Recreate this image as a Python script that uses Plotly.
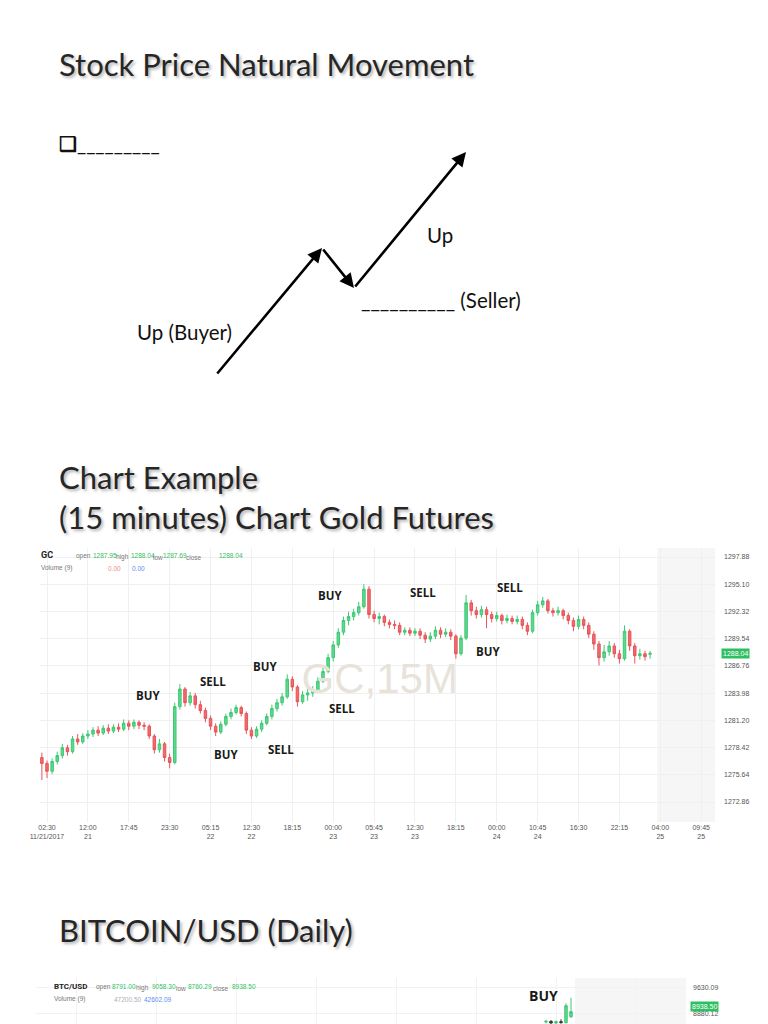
import plotly.graph_objects as go

# ---------------- data ----------------
# top concept diagram (page pixel coordinates of the zig-zag vertices)
diagram_x = [216, 322, 354, 466]
diagram_y = [375, 248, 288, 152]

# Gold futures 15-minute candles
gc_open = [1277.4, 1276.8, 1276.0, 1277.0, 1277.6, 1278.4, 1278.0, 1279.3, 1279.0, 1279.6,
           1279.8, 1280.2, 1279.9, 1280.4, 1280.1, 1280.5, 1280.3, 1280.9, 1280.6, 1281.0,
           1280.7, 1280.6, 1279.6, 1278.2, 1278.8, 1277.4, 1276.9, 1282.6, 1284.4, 1283.0,
           1283.7, 1282.8, 1282.2, 1281.4, 1280.6, 1280.0, 1280.8, 1281.6, 1282.0, 1282.5,
           1281.9, 1280.2, 1279.6, 1280.3, 1280.9, 1281.6, 1282.4, 1283.0, 1283.6, 1285.4,
           1284.6, 1283.1, 1283.8, 1284.0, 1284.3, 1285.2, 1286.2, 1287.6, 1288.9, 1290.2,
           1291.4, 1291.8, 1292.2, 1292.8, 1294.6, 1292.0, 1291.6, 1291.8, 1291.2, 1291.0,
           1290.9, 1290.2, 1290.4, 1290.1, 1290.3, 1289.9, 1289.5, 1289.8, 1290.4, 1290.0,
           1290.2, 1289.8, 1288.0, 1289.6, 1293.2, 1292.4, 1292.0, 1292.5, 1292.0, 1291.6,
           1291.9, 1291.4, 1291.6, 1291.3, 1291.5, 1290.9, 1290.3, 1292.2, 1293.0, 1293.4,
           1292.4, 1292.2, 1292.4, 1291.9, 1291.4, 1290.8, 1291.5, 1290.9, 1290.0, 1289.0,
           1287.6, 1288.2, 1288.8, 1288.0, 1287.5, 1290.3, 1288.8, 1287.8, 1288.0, 1287.95]
gc_close = [1276.8, 1276.0, 1277.0, 1277.6, 1278.4, 1278.0, 1279.3, 1279.0, 1279.6, 1279.8,
            1280.2, 1279.9, 1280.4, 1280.1, 1280.5, 1280.3, 1280.9, 1280.6, 1281.0, 1280.7,
            1280.6, 1279.6, 1278.2, 1278.8, 1277.4, 1276.9, 1282.6, 1284.4, 1283.0, 1283.7,
            1282.8, 1282.2, 1281.4, 1280.6, 1280.0, 1280.8, 1281.6, 1282.0, 1282.5, 1281.9,
            1280.2, 1279.6, 1280.3, 1280.9, 1281.6, 1282.4, 1283.0, 1283.6, 1285.4, 1284.6,
            1283.1, 1283.8, 1284.0, 1284.3, 1285.2, 1286.2, 1287.6, 1288.9, 1290.2, 1291.4,
            1291.8, 1292.2, 1292.8, 1294.6, 1292.0, 1291.6, 1291.8, 1291.2, 1291.0, 1290.9,
            1290.2, 1290.4, 1290.1, 1290.3, 1289.9, 1289.5, 1289.8, 1290.4, 1290.0, 1290.2,
            1289.8, 1288.0, 1289.6, 1293.2, 1292.4, 1292.0, 1292.5, 1292.0, 1291.6, 1291.9,
            1291.4, 1291.6, 1291.3, 1291.5, 1290.9, 1290.3, 1292.2, 1293.0, 1293.4, 1292.4,
            1292.2, 1292.4, 1291.9, 1291.4, 1290.8, 1291.5, 1290.9, 1290.0, 1289.0, 1287.6,
            1288.2, 1288.8, 1288.0, 1287.5, 1290.3, 1288.8, 1287.8, 1288.0, 1287.7, 1288.04]
gc_high = [1277.9, 1277.1, 1277.3, 1278.0, 1278.8, 1278.7, 1279.6, 1279.8, 1279.9, 1280.2,
           1280.5, 1280.6, 1280.7, 1280.8, 1280.8, 1280.9, 1281.3, 1281.2, 1281.3, 1281.2,
           1281.0, 1280.8, 1279.8, 1279.3, 1279.0, 1277.8, 1283.0, 1284.9, 1284.6, 1284.1,
           1284.0, 1283.2, 1282.5, 1281.7, 1280.9, 1281.1, 1281.9, 1282.4, 1282.8, 1282.7,
           1282.1, 1280.5, 1280.6, 1281.2, 1281.9, 1282.8, 1283.4, 1284.0, 1285.9, 1285.7,
           1284.8, 1284.2, 1284.5, 1284.7, 1285.6, 1286.6, 1288.0, 1289.3, 1290.6, 1291.8,
           1292.3, 1292.6, 1293.3, 1295.1, 1294.9, 1292.4, 1292.2, 1292.0, 1291.5, 1291.4,
           1291.2, 1290.7, 1290.7, 1290.6, 1290.6, 1290.2, 1290.2, 1290.8, 1290.7, 1290.6,
           1290.5, 1290.0, 1289.9, 1294.0, 1293.5, 1292.8, 1292.9, 1292.8, 1292.3, 1292.3,
           1292.1, 1292.0, 1291.9, 1291.9, 1291.8, 1291.2, 1292.5, 1293.4, 1293.8, 1293.6,
           1292.7, 1292.8, 1292.6, 1292.2, 1291.7, 1291.9, 1291.8, 1291.2, 1290.3, 1289.3,
           1288.9, 1289.3, 1289.1, 1288.4, 1290.9, 1290.5, 1289.1, 1288.5, 1288.3, 1288.3]
gc_low = [1275.1, 1275.3, 1275.7, 1276.7, 1277.3, 1277.6, 1277.8, 1278.7, 1278.8, 1279.3,
          1279.5, 1279.6, 1279.7, 1279.8, 1279.9, 1280.0, 1280.1, 1280.2, 1280.3, 1280.3,
          1280.2, 1279.3, 1277.8, 1277.9, 1277.0, 1276.3, 1276.7, 1282.3, 1282.6, 1282.7,
          1282.4, 1281.9, 1281.0, 1280.2, 1279.6, 1279.8, 1280.6, 1281.3, 1281.8, 1281.6,
          1279.8, 1279.3, 1279.4, 1280.0, 1280.7, 1281.3, 1282.1, 1282.7, 1283.4, 1284.2,
          1282.6, 1282.9, 1283.2, 1283.6, 1284.0, 1285.0, 1286.0, 1287.2, 1288.6, 1289.9,
          1290.9, 1291.4, 1291.9, 1292.6, 1291.6, 1291.2, 1291.0, 1290.8, 1290.6, 1290.5,
          1289.9, 1289.9, 1289.8, 1289.8, 1289.5, 1289.1, 1289.2, 1289.5, 1289.6, 1289.7,
          1289.4, 1287.5, 1287.8, 1289.4, 1291.9, 1291.6, 1291.7, 1290.6, 1291.2, 1291.3,
          1291.0, 1291.1, 1291.0, 1291.0, 1290.5, 1289.9, 1290.1, 1291.9, 1292.7, 1292.1,
          1291.8, 1291.9, 1291.5, 1291.0, 1290.3, 1290.5, 1290.5, 1289.6, 1288.4, 1286.8,
          1287.2, 1287.8, 1287.6, 1287.0, 1287.3, 1288.3, 1287.0, 1287.4, 1287.3, 1287.5]

gc_tick_index = [1, 9, 17, 25, 33, 41, 49, 57, 65, 73, 81, 89, 97, 105, 113, 121, 129]
gc_tick_text = ["02:30<br>11/21/2017", "12:00<br>21", "17:45", "23:30", "05:15<br>22",
                "12:30<br>22", "18:15", "00:00<br>23", "05:45<br>23", "12:30<br>23", "18:15",
                "00:00<br>24", "10:45<br>24", "16:30", "22:15", "04:00<br>25", "09:45<br>25"]
gc_price_ticks = [1297.88, 1295.10, 1292.32, 1289.54, 1286.76,
                  1283.98, 1281.20, 1278.42, 1275.64, 1272.86]
gc_last_close = 1288.04

# BUY / SELL markers on the gold chart: label, candle index, price level
signal_text = ["BUY", "SELL", "BUY", "BUY", "SELL", "SELL", "BUY", "SELL", "BUY", "SELL"]
signal_index = [20.8, 33.5, 43.6, 56.4, 74.5, 91.6, 87.3, 58.7, 36.0, 46.8]
signal_price = [1283.7, 1285.2, 1286.65, 1293.9, 1294.3, 1294.8, 1288.2, 1282.4, 1277.75, 1278.25]

# Bitcoin daily candles visible at the cropped bottom edge
btc_index = [102, 103, 104, 105, 106, 107]
btc_open = [8640, 8660, 8610, 8650, 8620, 8791.00]
btc_high = [8700, 8690, 8680, 8720, 9180, 9340]
btc_low = [8600, 8590, 8580, 8600, 8600, 8760.29]
btc_close = [8660, 8610, 8650, 8620, 9110, 8938.50]
btc_price_ticks = [9630.09, 8880.12]

W, H = 768, 1024
fig = go.Figure()

GREEN = "#3cc873"
RED = "#e8545a"

# ---------- gold chart ----------
fig.add_trace(go.Scatter(
    x=[66.1], y=[1285.1], mode="text", text=["GC,15M"],
    textfont=dict(family="Liberation Sans", size=42, color="#e8e3da"),
    xaxis="x", yaxis="y", hoverinfo="skip", showlegend=False))

fig.add_trace(go.Candlestick(
    x=list(range(len(gc_close))), open=gc_open, high=gc_high, low=gc_low, close=gc_close,
    increasing=dict(line=dict(color=GREEN, width=1), fillcolor="#5fd98f"),
    decreasing=dict(line=dict(color=RED, width=1), fillcolor="#ee6b6b"),
    whiskerwidth=0, showlegend=False, xaxis="x", yaxis="y"))

# ---------- bitcoin chart (cropped) ----------
fig.add_trace(go.Candlestick(
    x=btc_index, open=btc_open, high=btc_high, low=btc_low, close=btc_close,
    increasing=dict(line=dict(color=GREEN, width=1), fillcolor="#5fd98f"),
    decreasing=dict(line=dict(color="#333333", width=1), fillcolor="#555555"),
    whiskerwidth=0, showlegend=False, xaxis="x3", yaxis="y3"))

# ---------- pixel overlay axes (for the slide text and the diagram) ----------
fig.add_trace(go.Scatter(x=[diagram_x[0]], y=[diagram_y[0]], mode="markers",
                         marker=dict(size=1, color="rgba(0,0,0,0)"),
                         xaxis="x2", yaxis="y2", hoverinfo="skip", showlegend=False))

ann = []


def txt(x, y, s, size, color="#111111", family="Lato", weight="normal",
        xanchor="left", yanchor="middle", shadow="none", **kw):
    d = dict(x=x, y=y, xref="x2", yref="y2", text=s, showarrow=False,
             xanchor=xanchor, yanchor=yanchor,
             font=dict(family=family, size=size, color=color, weight=weight, shadow=shadow))
    d.update(kw)
    ann.append(d)


TITLE_SHADOW = "2px 2px 3px rgba(0,0,0,0.3)"
TC = "#262626"
txt(57, 64, "Stock Price Natural Movement", 31, TC, shadow=TITLE_SHADOW)
txt(57, 143, "<b>❑</b>_________", 20, "#111111")
txt(135, 332, "Up (Buyer)", 20.5)
txt(425, 235, "Up", 20.5)
txt(359, 300, "__________ (Seller)", 20.5)
txt(57, 477, "Chart Example", 31, TC, shadow=TITLE_SHADOW)
txt(57, 517, "(15 minutes) Chart Gold Futures", 31, TC, shadow=TITLE_SHADOW)
txt(57, 930, "BITCOIN/USD (Daily)", 31, TC, shadow=TITLE_SHADOW)

# diagram arrows from the vertex lists
for i in range(1, len(diagram_x)):
    ann.append(dict(x=diagram_x[i], y=diagram_y[i], ax=diagram_x[i - 1], ay=diagram_y[i - 1],
                    xref="x2", yref="y2", axref="x2", ayref="y2", text="", showarrow=True,
                    arrowhead=2, arrowsize=1.1, arrowwidth=2.6, arrowcolor="#000000",
                    standoff=0, startstandoff=0))

# gold chart header
SF = "Liberation Sans"
txt(39, 555, "<b>GC</b>", 9, "#222222", family="Roboto")
txt(74, 556, "open", 6.5, "#777777", family=SF)
txt(91, 555, "1287.95", 6.5, "#2fbf63", family=SF)
txt(114, 557, "high", 6.5, "#777777", family=SF)
txt(129, 555, "1288.04", 6.5, "#2fbf63", family=SF)
txt(151, 557, "low", 6.5, "#777777", family=SF)
txt(161, 555, "1287.69", 6.5, "#2fbf63", family=SF)
txt(184, 557, "close", 6.5, "#777777", family=SF)
txt(217, 555, "1288.04", 6.5, "#2fbf63", family=SF)
txt(39, 568, "Volume (9)", 6.5, "#777777", family=SF)
txt(106, 568, "0.00", 6.5, "#f08a8a", family=SF)
txt(130, 568, "0.00", 6.5, "#5a8ef0", family=SF)

# bitcoin header
txt(52, 986, "<b>BTC/USD</b>", 8, "#222222", family="Roboto")
txt(94, 987, "open", 6.5, "#777777", family=SF)
txt(110, 986, "8791.00", 6.5, "#2fbf63", family=SF)
txt(134, 988, "high", 6.5, "#777777", family=SF)
txt(150, 986, "9058.30", 6.5, "#2fbf63", family=SF)
txt(174, 988, "low", 6.5, "#777777", family=SF)
txt(186, 986, "8760.29", 6.5, "#2fbf63", family=SF)
txt(211, 988, "close", 6.5, "#777777", family=SF)
txt(230, 986, "8938.50", 6.5, "#2fbf63", family=SF)
txt(52, 999, "Volume (9)", 6.5, "#777777", family=SF)
txt(112, 999, "47200.50", 6.5, "#aab0b8", family=SF)
txt(142, 999, "42602.09", 6.5, "#5a8ef0", family=SF)
txt(527, 995, "<b>BUY</b>", 14, "#1a1a1a", family="Open Sans")
ann.append(dict(x=690 / W, y=1006, xref="paper", yref="y2", text="8938.50", showarrow=False,
                xanchor="left", yanchor="middle", bgcolor="#2fbf63", borderpad=1,
                font=dict(family=SF, size=7, color="white")))

# BUY / SELL labels on the gold chart
for s, xi, yp in zip(signal_text, signal_index, signal_price):
    ann.append(dict(x=xi, y=yp, xref="x", yref="y", text="<b>%s</b>" % s, showarrow=False,
                    xanchor="center", yanchor="middle",
                    font=dict(family="Open Sans", size=11.5, color="#1a1a1a")))

# last-price box
ann.append(dict(x=721 / W, y=gc_last_close, xref="paper", yref="y", text="1288.04",
                showarrow=False, xanchor="left", yanchor="middle", bgcolor="#2fbf63",
                borderpad=1, font=dict(family=SF, size=7, color="white")))

shapes = [
    dict(type="rect", xref="x", yref="y domain", x0=120.4, x1=131.7, y0=0, y1=1,
         fillcolor="#f6f6f6", line=dict(width=0), layer="below"),
    dict(type="rect", xref="x3", yref="y3 domain", x0=107.8, x1=130, y0=0, y1=1,
         fillcolor="#f6f6f6", line=dict(width=0), layer="below"),
]

gc_tick_labels = ["%.2f" % v for v in gc_price_ticks]
btc_tick_labels = ["%.2f" % v for v in btc_price_ticks]

fig.update_layout(
    template="none",
    width=W, height=H, margin=dict(l=0, r=0, t=0, b=0, pad=0, autoexpand=False),
    paper_bgcolor="white", plot_bgcolor="rgba(0,0,0,0)", showlegend=False,
    annotations=ann, shapes=shapes,
    xaxis=dict(domain=[40 / W, 715 / W], anchor="y", range=[-0.37, 131.7], automargin=False,
               tickmode="array", tickvals=gc_tick_index, ticktext=gc_tick_text,
               tickfont=dict(family=SF, size=7, color="#555555"),
               showgrid=True, gridcolor="#f0f0f0", gridwidth=1, zeroline=False,
               showline=False, ticks="", rangeslider=dict(visible=False), fixedrange=True),
    yaxis=dict(domain=[1 - 822 / H, 1 - 548 / H], anchor="x", side="right", automargin=False,
               range=[1270.82, 1298.80], tickmode="array", tickvals=gc_price_ticks,
               ticktext=gc_tick_labels, tickfont=dict(family=SF, size=7, color="#555555"),
               ticklabelstandoff=8, showgrid=True, gridcolor="#f0f0f0", zeroline=False,
               showline=False, ticks="", fixedrange=True),
    xaxis2=dict(domain=[0, 1], anchor="y2", range=[0, W], visible=False, fixedrange=True,
                automargin=False),
    yaxis2=dict(domain=[0, 1], anchor="x2", range=[H, 0], visible=False, fixedrange=True,
                automargin=False),
    xaxis3=dict(domain=[36 / W, 686 / W], anchor="y3", range=[0, 130], automargin=False,
                tickmode="array", tickvals=[8, 24, 40, 56, 72, 88, 104, 120],
                showticklabels=False, showgrid=True, gridcolor="#f2f2f2", zeroline=False,
                showline=False, ticks="", rangeslider=dict(visible=False), fixedrange=True),
    yaxis3=dict(domain=[0, 1 - 978 / H], anchor="x3", side="right", range=[8582, 9910],
                automargin=False,
                tickmode="array", tickvals=btc_price_ticks, ticktext=btc_tick_labels,
                tickfont=dict(family=SF, size=7, color="#555555"), ticklabelstandoff=6,
                showgrid=True, gridcolor="#f2f2f2", zeroline=False, showline=False,
                ticks="", fixedrange=True),
)

fig.write_html("out.html")
